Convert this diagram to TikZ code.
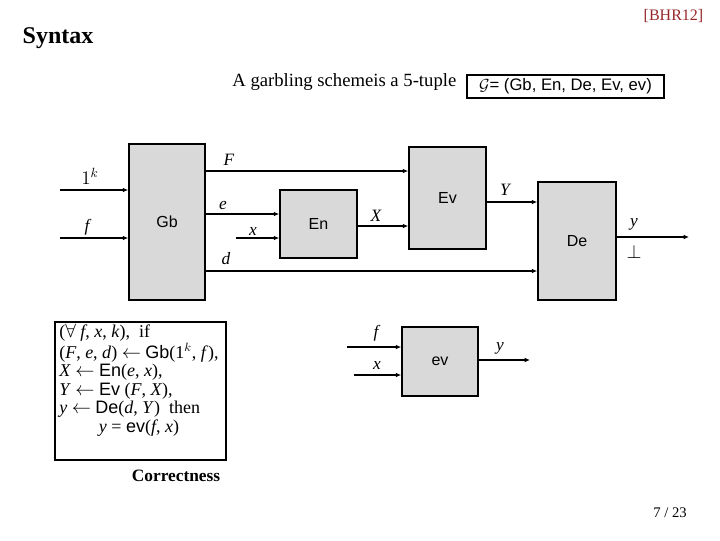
\documentclass[tikz,border=0pt]{standalone}
\usepackage{fontspec}
\setmainfont{Liberation Serif}
\newfontfamily\arial{Liberation Sans}
\usetikzlibrary{arrows.meta}
\definecolor{boxgray}{RGB}{217,217,217}
\definecolor{refred}{RGB}{150,40,40}
\newcommand{\vv}[1]{\textit{#1}}
\begin{document}
\begin{tikzpicture}[x=0.75pt,y=-0.75pt,
  blk/.style={draw,line width=1.2pt,fill=boxgray,inner sep=0pt,font=\arial\fontsize{12}{14}\selectfont},
  wire/.style={line width=1.1pt,-{Latex[length=4pt,width=3.5pt]}},
  lab/.style={font=\fontsize{13}{15}\selectfont\itshape}]
\useasboundingbox (0,0) rectangle (720,540);
\node[font=\bfseries\fontsize{18}{22}\selectfont,anchor=west] (syn) at (18,38) {Syntax};
\node[font=\fontsize{12}{14}\selectfont,text=refred,anchor=east] (ref) at (708,16) {[BHR12]};
\node[font=\fontsize{14}{16}\selectfont,anchor=east] (ttl) at (461,82) {A garbling schemeis a 5-tuple};
\node[draw,line width=1.1pt,minimum width={197*0.75pt},minimum height={23*0.75pt},inner sep=0pt,font=\arial\fontsize{12.5}{14}\selectfont] (tup) at (565.5,86.5) {$\mathcal{G}$= (Gb, En, De, Ev, ev)};
% blocks
\node[blk,minimum width={76*0.75pt},minimum height={156*0.75pt}] (gb) at (167,222) {Gb};
\node[blk,minimum width={77*0.75pt},minimum height={68*0.75pt}] (en) at (318.5,224) {En};
\node[blk,minimum width={77*0.75pt},minimum height={102*0.75pt}] (ev) at (447.5,198) {Ev};
\node[blk,minimum width={78*0.75pt},minimum height={118*0.75pt}] (de) at (577,241) {De};
\coordinate (k0) at (60,190);
\coordinate (f0) at (60,238);
\coordinate (x0) at (236,238);
\coordinate (yout) at (689,237);
\draw[wire] (k0) -- (k0 -| gb.west);
\draw[wire] (f0) -- (f0 -| gb.west);
\draw[wire] (gb.east |- 0,171) -- (ev.west |- 0,171);
\draw[wire] (gb.east |- 0,214) -- (en.west |- 0,214);
\draw[wire] (x0) -- (x0 -| en.west);
\draw[wire] (en.east |- 0,226) -- (ev.west |- 0,226);
\draw[wire] (ev.east |- 0,202) -- (de.west |- 0,202);
\draw[wire] (gb.east |- 0,271) -- (de.west |- 0,271);
\draw[wire] (de.east |- yout) -- (yout);
\node[font=\fontsize{14}{16}\selectfont] (l1k) at (90,176) {$1^{k}$};
\node[lab] (lf) at (87,227) {f};
\node[lab] (lF) at (229,160) {F};
\node[lab] (le) at (223,205) {e};
\node[lab] (lx) at (253,232) {x};
\node[lab] (lX) at (376,216) {X};
\node[lab] (lY) at (505,190) {Y};
\node[lab] (ld) at (226,259) {d};
\node[lab] (ly) at (634,224) {y};
\node[font=\bfseries\fontsize{14}{15}\selectfont] (bot) at (634,252) {$\perp$};
% ev
\node[blk,minimum width={76*0.75pt},minimum height={69*0.75pt}] (evs) at (440,361.5) {ev};
\coordinate (ef) at (347,347);
\coordinate (ex) at (354,375);
\coordinate (ey) at (530,360);
\draw[wire] (ef) -- (ef -| evs.west);
\draw[wire] (ex) -- (ex -| evs.west);
\draw[wire] (evs.east |- ey) -- (ey);
\node[lab] (lef) at (376,333) {f};
\node[lab] (lex) at (377,366) {x};
\node[lab] (ley) at (500,348) {y};
% correctness
\node[draw,line width=1.2pt,minimum width={171*0.75pt},minimum height={138*0.75pt},anchor=north west] (cbox) at (54,321) {};
\node[anchor=north west,align=left,inner sep=0pt,font=\fontsize{13.5}{13.9}\selectfont] (ctext) at (59,324) {%
($\forall$ \vv{f}, \vv{x}, \vv{k}),\ \ if\\
(\vv{F}, \vv{e}, \vv{d}) $\leftarrow$ {\arial Gb}(1$^{k}$, \vv{f}),\\
\vv{X} $\leftarrow$ {\arial En}(\vv{e}, \vv{x}),\\
\vv{Y} $\leftarrow$ {\arial Ev} (\vv{F}, \vv{X}),\\
\vv{y} $\leftarrow$ {\arial De}(\vv{d}, \vv{Y})\ \ then\\
\hspace*{2.2em}\vv{y} = {\arial ev}(\vv{f}, \vv{x})};
\node[font=\bfseries\fontsize{13}{14}\selectfont] (corr) at (176,476) {Correctness};
\node[font=\fontsize{11}{13}\selectfont] (pg) at (670,513) {7 / 23};
\end{tikzpicture}
\end{document}
